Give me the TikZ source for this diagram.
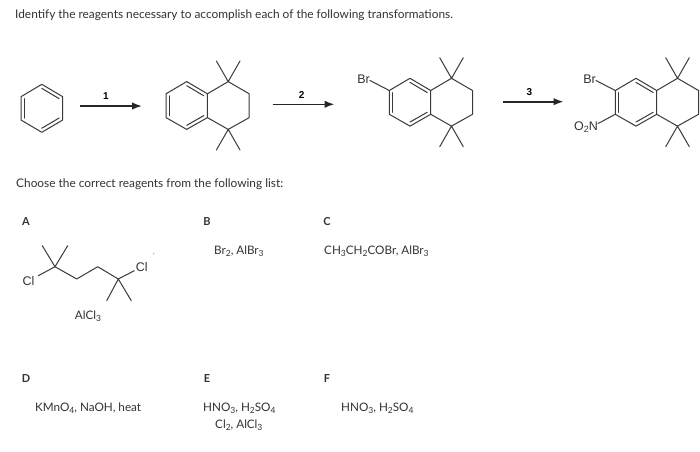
\documentclass[tikz,border=0pt]{standalone}
\usepackage{fontspec}
\setmainfont{Lato}
\newfontfamily\chemfont{Liberation Sans}
\usetikzlibrary{calc,arrows.meta}
\definecolor{ink}{HTML}{333333}
\definecolor{bondc}{HTML}{3A3A3A}
\newcommand{\sbs}[1]{\raisebox{-0.3ex}{\fontsize{8.5}{9}\selectfont #1}}
\newcommand{\asb}[1]{\raisebox{-0.3ex}{\fontsize{9}{10}\selectfont #1}}
\tikzset{
  bond/.style={draw=bondc,line width=1pt,line cap=round,line join=round},
  rxn/.style={draw=black!85,line width=1.6pt,-{Latex[length=10pt,width=7.5pt]}},
  txt/.style={inner sep=0pt,anchor=west,text=ink,font=\fontsize{11.7}{13}\selectfont},
  head/.style={txt,font=\fontsize{11.87}{13}\selectfont},
  opt/.style={inner sep=0pt,text=ink,font=\fontsize{11}{12}\selectfont\bfseries},
  stepnum/.style={inner sep=0pt,text=black,font=\chemfont\fontsize{10}{11}\selectfont\bfseries},
  atom/.style={inner sep=0pt,text=ink,font=\chemfont\fontsize{12.5}{14}\selectfont},
}
% double bond inner line, pulled towards ring centre
\newcommand{\dbl}[3]{\draw[bond] ($(#1)!0.17!(#3)$) -- ($(#2)!0.17!(#3)$);}
% tetramethyl-tetralin skeleton, origin at upper aromatic CH
\newcommand{\tetralin}[3]{%
  \begin{scope}[shift={(#2,#3)}]
    \coordinate (#1a) at (0,0);
    \coordinate (#1b) at (20.7,12.2);
    \coordinate (#1c) at (20.7,36);
    \coordinate (#1d) at (0,47.8);
    \coordinate (#1e) at (-20.7,36);
    \coordinate (#1f) at (-20.7,12.2);
    \coordinate (#1o) at (0,24);
    \coordinate (#1g) at (41.5,0);
    \coordinate (#1h) at (62.5,12.2);
    \coordinate (#1i) at (62.5,36);
    \coordinate (#1j) at (41.5,47.8);
    \coordinate (#1k) at (29.7,-20.6);
    \coordinate (#1l) at (53.3,-20.6);
    \coordinate (#1m) at (29.7,68.4);
    \coordinate (#1n) at (53.3,68.4);
  \end{scope}
  \draw[bond] (#1a)--(#1b)--(#1c)--(#1d)--(#1e)--(#1f)--cycle;
  \draw[bond] (#1b)--(#1g)--(#1h)--(#1i)--(#1j)--(#1c);
  \draw[bond] (#1k)--(#1g)--(#1l);
  \draw[bond] (#1m)--(#1j)--(#1n);
  \dbl{#1a}{#1b}{#1o}\dbl{#1c}{#1d}{#1o}\dbl{#1e}{#1f}{#1o}%
}
\begin{document}
\begin{tikzpicture}[x=1pt,y=-1pt]
\useasboundingbox (0,0) rectangle (700,451);
\fill[white] (0,0) rectangle (700,451);
\node[head] (title) at (15,15) {Identify the reagents necessary to accomplish each of the following transformations.};
\node[head] (choose) at (16,184) {Choose the correct reagents from the following list:};

% benzene
\coordinate (ba) at (41.8,84.3);
\coordinate (bb) at (62.7,96.7);
\coordinate (bc) at (62.7,120);
\coordinate (bd) at (41.8,132.3);
\coordinate (be) at (21,120);
\coordinate (bf) at (21,96.7);
\coordinate (bo) at (41.8,108.3);
\draw[bond] (ba)--(bb)--(bc)--(bd)--(be)--(bf)--cycle;
\dbl{ba}{bb}{bo}\dbl{bc}{bd}{bo}\dbl{be}{bf}{bo}

% arrow 1
\coordinate (a1s) at (80,106);
\coordinate (a1e) at (142,106);
\draw[rxn] (a1s) -- (a1e);
\node[stepnum] (n1) at (106,96.5) {1};

% tetralin
\tetralin{t}{186.7}{81.6}

% arrow 2
\coordinate (a2s) at (272.7,104.3);
\coordinate (a2e) at (334.5,104.3);
\draw[rxn] (a2s) -- (a2e);
\node[stepnum] (n2) at (301.7,95.5) {2};

% bromo
\tetralin{r}{410}{78.3}
\node[atom] (rbr) at (363.5,79) {Br};
\draw[bond] (rf) -- (rbr.east |- 0,80.5);

% arrow 3
\coordinate (a3s) at (502.7,101.7);
\coordinate (a3e) at (563.5,101.7);
\draw[rxn] (a3s) -- (a3e);
\node[stepnum] (n3) at (529.3,92) {3};

% nitro
\tetralin{s}{636}{78.3}
\node[atom] (sbr) at (589.5,79) {Br};
\draw[bond] (sf) -- (sbr.east |- 0,80.5);
\node[atom] (sno) at (586,127) {O\asb{2}N};
\draw[bond] (se) -- (sno.east |- 0,123.5);

% options
\node[opt] (oa) at (26,222) {A};
\node[opt] (ob) at (207,222) {B};
\node[opt] (oc) at (327,222) {C};
\node[opt] (od) at (26,378.5) {D};
\node[opt] (oe) at (207,378.5) {E};
\node[opt] (of) at (327,378.5) {F};

% chain in option A
\coordinate (c1) at (55,266.7);
\coordinate (c2) at (76.7,279);
\coordinate (c3) at (97.7,266.7);
\coordinate (c4) at (118.3,279);
\coordinate (m1) at (42.3,245.7);
\coordinate (m2) at (67.7,245.7);
\coordinate (m3) at (106.7,300.7);
\coordinate (m4) at (131.3,300.7);
\node[atom] (cl1) at (28.5,281) {Cl};
\node[atom] (cl2) at (141.7,266.7) {Cl};
\draw[bond] (c1)--(c2)--(c3)--(c4);
\draw[bond] (m1)--(c1)--(m2);
\draw[bond] (m3)--(c4)--(m4);
\draw[bond] (c1) -- (38.3,275.7);
\draw[bond] (c4) -- (134.3,270.7);
\fill[black!45] (153.7,253.7) circle (0.6pt);

% reagents
\node[txt] (rb) at (214,251.2) {Br\sbs{2}, AlBr\sbs{3}};
\node[txt] (rc) at (324,251.2) {CH\sbs{3}CH\sbs{2}COBr, AlBr\sbs{3}};
\node[txt,anchor=center] (ra) at (88,316) {AlCl\sbs{3}};
\node[txt] (rd) at (35,408.2) {KMnO\sbs{4}, NaOH, heat};
\node[txt] (re) at (203,408.2) {HNO\sbs{3}, H\sbs{2}SO\sbs{4}};
\node[txt] (re2) at (215,425) {Cl\sbs{2}, AlCl\sbs{3}};
\node[txt] (rf) at (341,408.2) {HNO\sbs{3}, H\sbs{2}SO\sbs{4}};
\end{tikzpicture}
\end{document}
